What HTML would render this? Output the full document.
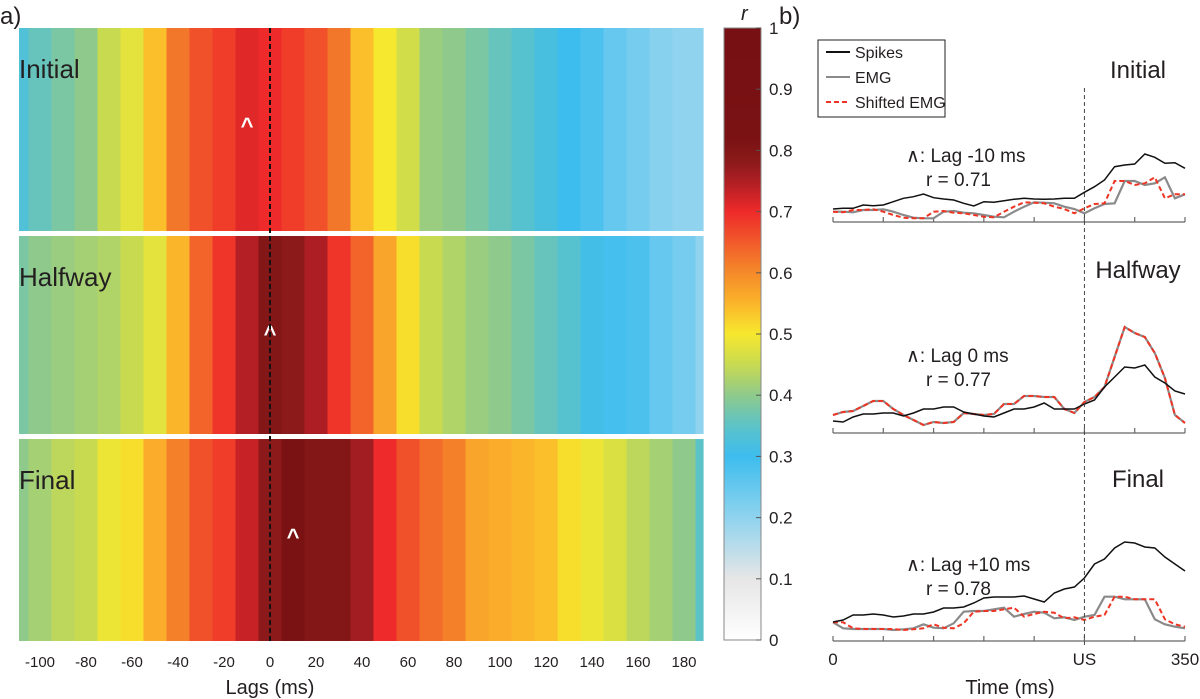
<!DOCTYPE html>
<html><head><meta charset="utf-8"><style>
html,body{margin:0;padding:0;background:#fff}
svg{display:block;font-family:"Liberation Sans",sans-serif}
</style></head><body>
<svg id="fig" width="1200" height="699" viewBox="0 0 1200 699">
<g id="heat"></g>
<g id="cbar"></g>
<g id="lines"></g>
</svg>
<script>
// ---------- heatmap data ----------
const lags = [-110,-100,-90,-80,-70,-60,-50,-40,-30,-20,-10,0,10,20,30,40,50,60,70,80,90,100,110,120,130,140,150,160,170,180,190];
const rInitial = [0.33,0.36,0.38,0.40,0.45,0.48,0.54,0.62,0.66,0.68,0.71,0.70,0.68,0.66,0.62,0.54,0.50,0.46,0.41,0.40,0.38,0.36,0.34,0.32,0.30,0.28,0.25,0.23,0.21,0.20,0.20];
const rHalfway = [0.38,0.40,0.41,0.42,0.43,0.45,0.48,0.55,0.64,0.69,0.745,0.80,0.78,0.75,0.69,0.64,0.57,0.51,0.45,0.43,0.41,0.40,0.38,0.36,0.34,0.31,0.29,0.28,0.25,0.23,0.20];
const rFinal = [0.40,0.42,0.44,0.45,0.49,0.51,0.56,0.61,0.66,0.68,0.73,0.78,0.82,0.80,0.80,0.76,0.70,0.66,0.63,0.61,0.57,0.56,0.55,0.54,0.51,0.49,0.47,0.44,0.42,0.40,0.35];
const stageNames = ["Initial","Halfway","Final"];
const bestLags = [-10,0,10];
const lagTicks = [-100,-80,-60,-40,-20,0,20,40,60,80,100,120,140,160,180];
const cbTicks = [0,0.1,0.2,0.3,0.4,0.5,0.6,0.7,0.8,0.9,1];
// ---------- time series data (amplitude, a.u.) ----------
const times = [0,10,20,30,40,50,60,70,80,90,100,110,120,130,140,150,160,170,180,190,200,210,220,230,240,250,260,270,280,290,300,310,320,330,340,350];
const spikes1 = [13,13.7,13.7,17,16.3,17,20.3,23.7,25.3,28,24.3,23,22,18.7,16,20.3,19.7,21.3,22.7,23.7,23,22.7,23,23.7,23.7,29.7,35.3,42,55.3,57,58,68,64.7,58.7,59.3,53.7];
const emg1 = [10.3,10.3,9.7,12,12,12.7,10.3,7,4.3,3.7,3.7,10.3,11,9.3,8.7,7,5.3,4.7,10.3,15.3,19.7,19.3,18.7,15.3,13,8.7,13.7,18,18.7,41,41,37,38.7,44.7,23.7,27.7];
const shifted1 = [10.3,9.7,12,12,12.7,10.3,7,4.3,3.7,3.7,10.3,11,9.3,8.7,7,5.3,4.7,10.3,15.3,19.7,19.3,18.7,15.3,13,8.7,13.7,18,18.7,41,41,37,38.7,44.7,23.7,27.7,27.7];
const spikes2 = [12,11,16,19,19,20,20,17,20,24,24,26,26,21,19,17,16,20,24,24,26,30,24,24,24,29,33,46,56,66,65,68,56,50,42,39];
const emg2 = [18,21,22,27,32,32,24,18,13,8,11,10,11,20,19,18,19,29,29,37,37,36,36,24,20,31,36,46,76,106,100,96,80,55,18,10];
const shifted2 = [18,21,22,27,32,32,24,18,13,8,11,10,11,20,19,18,19,29,29,37,37,36,36,24,20,31,36,46,76,106,100,96,80,55,18,10];
const spikes3 = [19,21,26,26,27,26,24,25,27,27,29,33,33,34,38,43,44,44,44,45,42,39,48,52,54,63,77,82,93,99,98,94,93,84,77,70];
const emg3 = [18.7,12.7,12,12,12,12,11,11.7,12.7,16.7,13.3,12.7,17.7,29.3,30,30,31.7,33.3,24.3,27,29.3,28.3,22.7,23.7,21,24.3,26,44.3,44.3,41.7,41.7,41.7,21.7,16.7,14.3,12.7];
const shifted3 = [18.7,18.7,12.7,12,12,12,12,11,11.7,12.7,16.7,13.3,12.7,17.7,29.3,30,30,31.7,33.3,24.3,27,29.3,28.3,22.7,23.7,21,24.3,26,44.3,44.3,41.7,41.7,41.7,21.7,16.7,14.3];
const annoLags = ["∧: Lag -10 ms","∧: Lag 0 ms","∧: Lag +10 ms"];
const annoR = ["r = 0.71","r = 0.77","r = 0.78"];
const timeTicks = [0,50,100,150,200,250,300,350];

const NS="http://www.w3.org/2000/svg";
function mk(tag,attrs,parent){const e=document.createElementNS(NS,tag);for(const k in attrs)e.setAttribute(k,attrs[k]);parent.appendChild(e);return e;}
const stops=[[0,[255,255,255]],[0.1,[230,230,230]],[0.2,[143,211,238]],[0.3,[61,189,238]],[0.35,[92,195,200]],[0.4,[143,202,140]],[0.45,[200,218,80]],[0.5,[246,232,46]],[0.55,[251,181,42]],[0.6,[245,138,42]],[0.65,[241,90,42]],[0.7,[238,42,42]],[0.75,[173,30,36]],[0.78,[140,26,26]],[0.82,[122,18,20]],[1,[118,16,18]]];
function cmap(v){v=Math.max(0,Math.min(1,v));for(let i=1;i<stops.length;i++){if(v<=stops[i][0]){const a=stops[i-1],b=stops[i],t=(v-a[0])/(b[0]-a[0]);const c=a[1].map((x,j)=>Math.round(x+(b[1][j]-x)*t));return `rgb(${c})`;}}return 'rgb(118,16,18)';}
const HX0=19,HX1=703;
function xLag(l){return 270+l*2.3;}
const panelsY=[[28,231],[236,434],[439,641]];
const rows=[rInitial,rHalfway,rFinal];
const heat=document.getElementById('heat');
mk('text',{x:0,y:24,'font-size':24,fill:'#231f20'},heat).textContent='a)';
rows.forEach((row,p)=>{
  const [y0,y1]=panelsY[p];
  const g=mk('g',{},heat);
  
  
  row.forEach((r,i)=>{
    let a=Math.max(HX0,xLag(lags[i]-5)),b=Math.min(HX1,xLag(lags[i]+5));
    if(b<=a)return;
    const c=mk('rect',{x:a,y:y0,width:b-a+0.6,height:y1-y0,fill:cmap(r)},g);
    
    
  });
  const t=mk('text',{x:19,y:y0+50,'font-size':26,fill:'#231f20'},heat);
  t.textContent=stageNames[p];
  
  
  const c=mk('text',{x:xLag(bestLags[p]),y:y0+105,'font-size':22,'font-weight':'bold',fill:'#fff','text-anchor':'middle'},heat);
  c.textContent='^';
  
  
});
mk('line',{x1:270,y1:28,x2:270,y2:641,stroke:'#111','stroke-width':2,'stroke-dasharray':'5,3'},heat);
lagTicks.forEach(l=>{
  const t=mk('text',{x:xLag(l),y:667,'font-size':15,fill:'#231f20','text-anchor':'middle'},heat);
  t.textContent=l;
  
  
});
const lx=mk('text',{x:270,y:694,'font-size':20,fill:'#231f20','text-anchor':'middle'},heat);
lx.textContent='Lags (ms)';


const cb=document.getElementById('cbar');
const defs=mk('defs',{},cb);
const grad=mk('linearGradient',{id:'cg',x1:0,y1:1,x2:0,y2:0},defs);
for(let i=0;i<=50;i++){const v=i/50;mk('stop',{offset:v,'stop-color':cmap(v)},grad);}
function yCb(v){return 640-v*612;}
mk('rect',{x:724,y:28,width:37,height:612,fill:'url(#cg)',stroke:'#888','stroke-width':1},cb);
cbTicks.forEach(v=>{
  mk('line',{x1:756,x2:761,y1:yCb(v),y2:yCb(v),stroke:'#555'},cb);
  const t=mk('text',{x:769,y:yCb(v)+6,'font-size':17,fill:'#231f20'},cb);
  t.textContent=String(v);
  
  
});
const rt=mk('text',{x:741,y:20,'font-size':20,'font-style':'italic',fill:'#231f20'},cb);
rt.textContent='r';


const L=document.getElementById('lines');
mk('text',{x:779,y:24,'font-size':24,fill:'#231f20'},L).textContent='b)';
function xT(t){return 833+t*352/350;}
const bases=[222,433,641];
const series=[[spikes1,emg1,shifted1],[spikes2,emg2,shifted2],[spikes3,emg3,shifted3]];
const titleY=[78,278,487];
series.forEach((s,p)=>{
  const base=bases[p];
  const yA=v=>base-v;
  const g=mk('g',{},L);
  
  
  mk('line',{x1:833,x2:1185,y1:base,y2:base,stroke:'#666','stroke-width':1.2},g);
  timeTicks.forEach(t=>mk('line',{x1:xT(t),x2:xT(t),y1:base,y2:base-5,stroke:'#666','stroke-width':1.2},g));
  const pts=a=>a.map((v,i)=>xT(times[i]).toFixed(1)+','+yA(v).toFixed(1)).join(' ');
  const e=mk('polyline',{points:pts(s[1]),fill:'none',stroke:'#8a8a8a','stroke-width':2.2},g);
  
  
  const r=mk('polyline',{points:pts(s[2]),fill:'none',stroke:'#ee3524','stroke-width':2,'stroke-dasharray':'5,3'},g);
  
  
  const k=mk('polyline',{points:pts(s[0]),fill:'none',stroke:'#111','stroke-width':1.5},g);
  
  
  const tt=mk('text',{x:1138,y:titleY[p],'font-size':24,fill:'#231f20','text-anchor':'middle'},g);
  tt.textContent=stageNames[p];
  
  
  const a1=mk('text',{x:906,y:titleY[p]+84,'font-size':19,fill:'#231f20'},g);
  a1.textContent=annoLags[p];
  
  
  const a2=mk('text',{x:926,y:titleY[p]+108,'font-size':19,fill:'#231f20'},g);
  a2.textContent=annoR[p];
  
  
});
mk('line',{x1:xT(250),x2:xT(250),y1:88,y2:645,stroke:'#444','stroke-width':1,'stroke-dasharray':'4,3'},L);
[[0,'0'],[250,'US'],[350,'350']].forEach(([t,s])=>{
  const tx=mk('text',{x:xT(t),y:665,'font-size':17,fill:'#231f20','text-anchor':'middle'},L);
  tx.textContent=s;
  
  
});
const tx=mk('text',{x:1010,y:694,'font-size':20,fill:'#231f20','text-anchor':'middle'},L);
tx.textContent='Time (ms)';


const lg=mk('g',{},L);


mk('rect',{x:818,y:40,width:127,height:77,fill:'#fff',stroke:'#222','stroke-width':1},lg);
[['Spikes','#111',''],['EMG','#8a8a8a',''],['Shifted EMG','#ee3524','5,3']].forEach((d,i)=>{
  const y=52+i*25;
  mk('line',{x1:826,x2:850,y1:y,y2:y,stroke:d[1],'stroke-width':2,'stroke-dasharray':d[2]||'none'},lg);
  const t=mk('text',{x:855,y:y+6,'font-size':16,fill:'#231f20'},lg);
  t.textContent=d[0];
  
  
});
</script>
</body></html>
